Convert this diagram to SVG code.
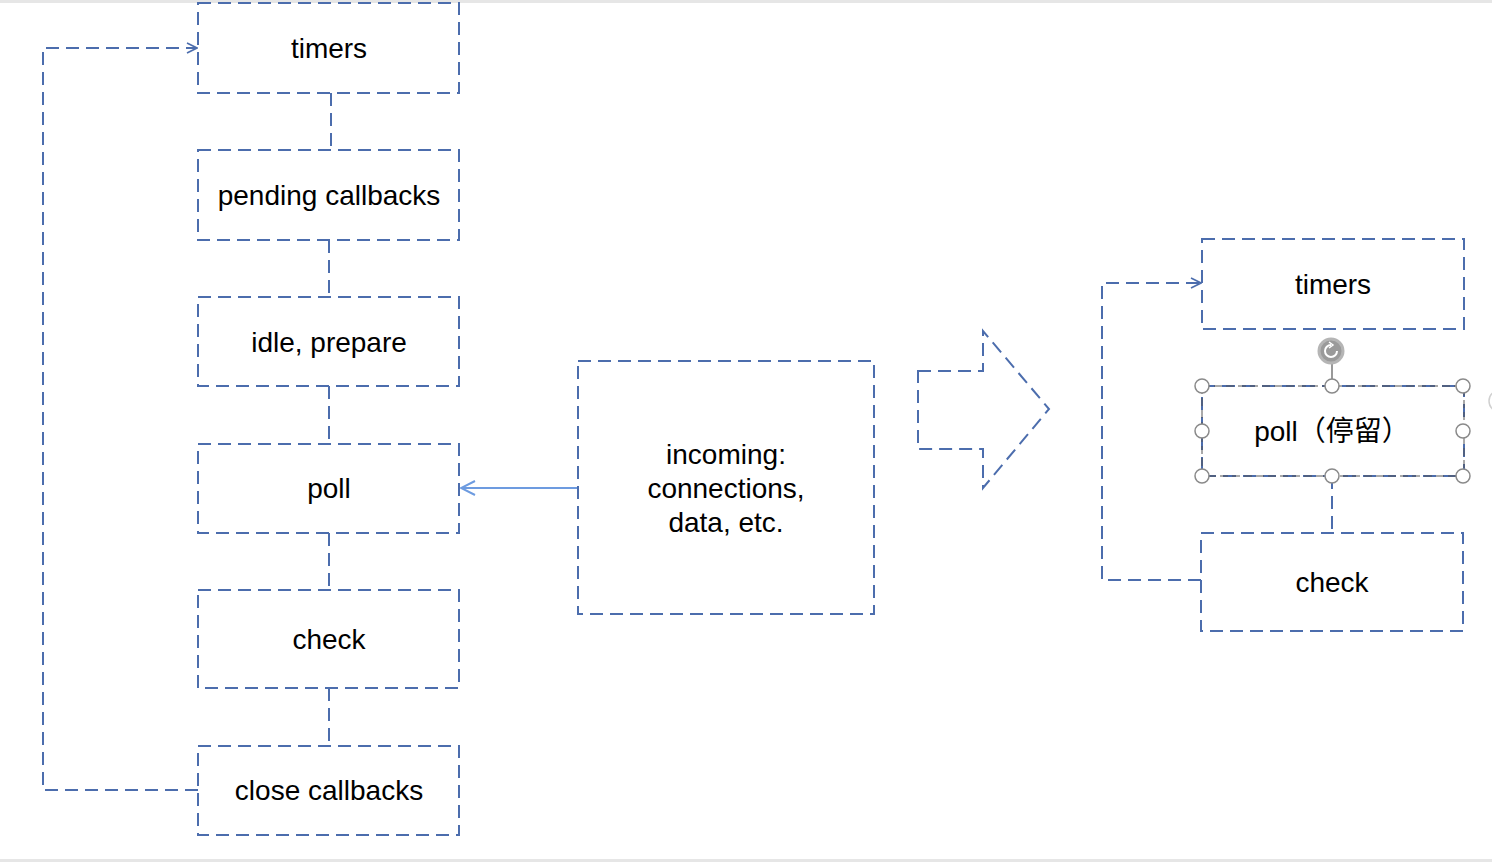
<svg xmlns="http://www.w3.org/2000/svg" width="1492" height="862" viewBox="0 0 1492 862">
<style>
.box{fill:none;stroke:#4c6dad;stroke-width:2;stroke-dasharray:13 7}
.ln{fill:none;stroke:#4c6dad;stroke-width:2;stroke-dasharray:13 7}
.t{font-family:"Liberation Sans",Arial,"Noto Sans CJK SC",sans-serif;font-size:28px;fill:#000;text-anchor:middle;dominant-baseline:central}
.h{fill:#fff;stroke:#8a8a8a;stroke-width:1.5}
</style>
<defs>
<marker id="arr" viewBox="0 0 12 12" refX="11" refY="6" markerWidth="12" markerHeight="12" markerUnits="userSpaceOnUse" orient="auto">
<path d="M1,1 L11,6 L1,11" fill="none" stroke="#4c6dad" stroke-width="1.6"/>
</marker>
<marker id="arr2" viewBox="0 0 16 16" refX="15" refY="8" markerWidth="16" markerHeight="16" markerUnits="userSpaceOnUse" orient="auto">
<path d="M1,1 L15,8 L1,15" fill="none" stroke="#6d9be0" stroke-width="2"/>
</marker>
</defs>
<rect x="0" y="0" width="1492" height="862" fill="#fff"/>
<rect x="0" y="0" width="1492" height="3" fill="#e6e6e6"/>
<rect x="0" y="859" width="1492" height="3" fill="#e6e6e6"/>
<g id="connectors">
<line class="ln" x1="331" y1="93" x2="331" y2="150"/>
<line class="ln" x1="329" y1="240" x2="329" y2="297"/>
<line class="ln" x1="329" y1="386" x2="329" y2="444"/>
<line class="ln" x1="329" y1="533" x2="329" y2="590"/>
<line class="ln" x1="329" y1="688" x2="329" y2="746"/>
<path class="ln" d="M198,790 H43 V48 H197" marker-end="url(#arr)"/>
<line x1="578" y1="488" x2="461" y2="488" stroke="#6d9be0" stroke-width="2" marker-end="url(#arr2)"/>
<line class="ln" x1="1332" y1="476" x2="1332" y2="533"/>
<path class="ln" d="M1201,580 H1102 V283 H1201" marker-end="url(#arr)"/>
</g>
<g id="timers"><rect class="box" x="198" y="3" width="261" height="90"/><text class="t" x="329" y="48">timers</text></g>
<g id="pending"><rect class="box" x="198" y="150" width="261" height="90"/><text class="t" x="329" y="195">pending callbacks</text></g>
<g id="idle"><rect class="box" x="198" y="297" width="261" height="89"/><text class="t" x="329" y="342">idle, prepare</text></g>
<g id="poll"><rect class="box" x="198" y="444" width="261" height="89"/><text class="t" x="329" y="488">poll</text></g>
<g id="check"><rect class="box" x="198" y="590" width="261" height="98"/><text class="t" x="329" y="639">check</text></g>
<g id="close"><rect class="box" x="198" y="746" width="261" height="89"/><text class="t" x="329" y="790">close callbacks</text></g>
<g id="incoming"><rect class="box" x="578" y="361" width="296" height="253"/>
<text class="t" x="726" y="454">incoming:</text>
<text class="t" x="726" y="488">connections,</text>
<text class="t" x="726" y="522">data, etc.</text></g>
<g id="bigarrow"><path class="box" d="M918,371 H983 V331 L1049,409 L983,488 V449 H918 Z"/></g>
<g id="timers2"><rect class="box" x="1202" y="239" width="262" height="90"/><text class="t" x="1333" y="284">timers</text></g>
<g id="poll2">
<rect class="box" x="1202" y="386" width="262" height="90"/>
<rect x="1202" y="386" width="262" height="90" fill="none" stroke="#555" stroke-width="1" stroke-dasharray="8 4"/>
<text class="t" x="1332" y="431">poll（停留）</text>
<line x1="1332" y1="341" x2="1332" y2="386" stroke="#555" stroke-width="1.2"/>
<circle cx="1331" cy="351" r="12" fill="#9a9a9a" stroke="#b5b5b5" stroke-width="3"/>
<path d="M1337,351 A6,6 0 1 1 1331,345" fill="none" stroke="#fff" stroke-width="2"/>
<path d="M1329,342 L1333,345 L1329,348" fill="none" stroke="#fff" stroke-width="1.5"/>
<circle class="h" cx="1202" cy="386" r="7"/><circle class="h" cx="1332" cy="386" r="7"/><circle class="h" cx="1463" cy="386" r="7"/>
<circle class="h" cx="1202" cy="431" r="7"/><circle class="h" cx="1463" cy="431" r="7"/>
<circle class="h" cx="1202" cy="476" r="7"/><circle class="h" cx="1332" cy="476" r="7"/><circle class="h" cx="1463" cy="476" r="7"/>
</g>
<circle cx="1500" cy="401" r="11" fill="none" stroke="#d0d0d0" stroke-width="1.5"/>
<g id="check2"><rect class="box" x="1201" y="533" width="262" height="98"/><text class="t" x="1332" y="582">check</text></g>
</svg>
